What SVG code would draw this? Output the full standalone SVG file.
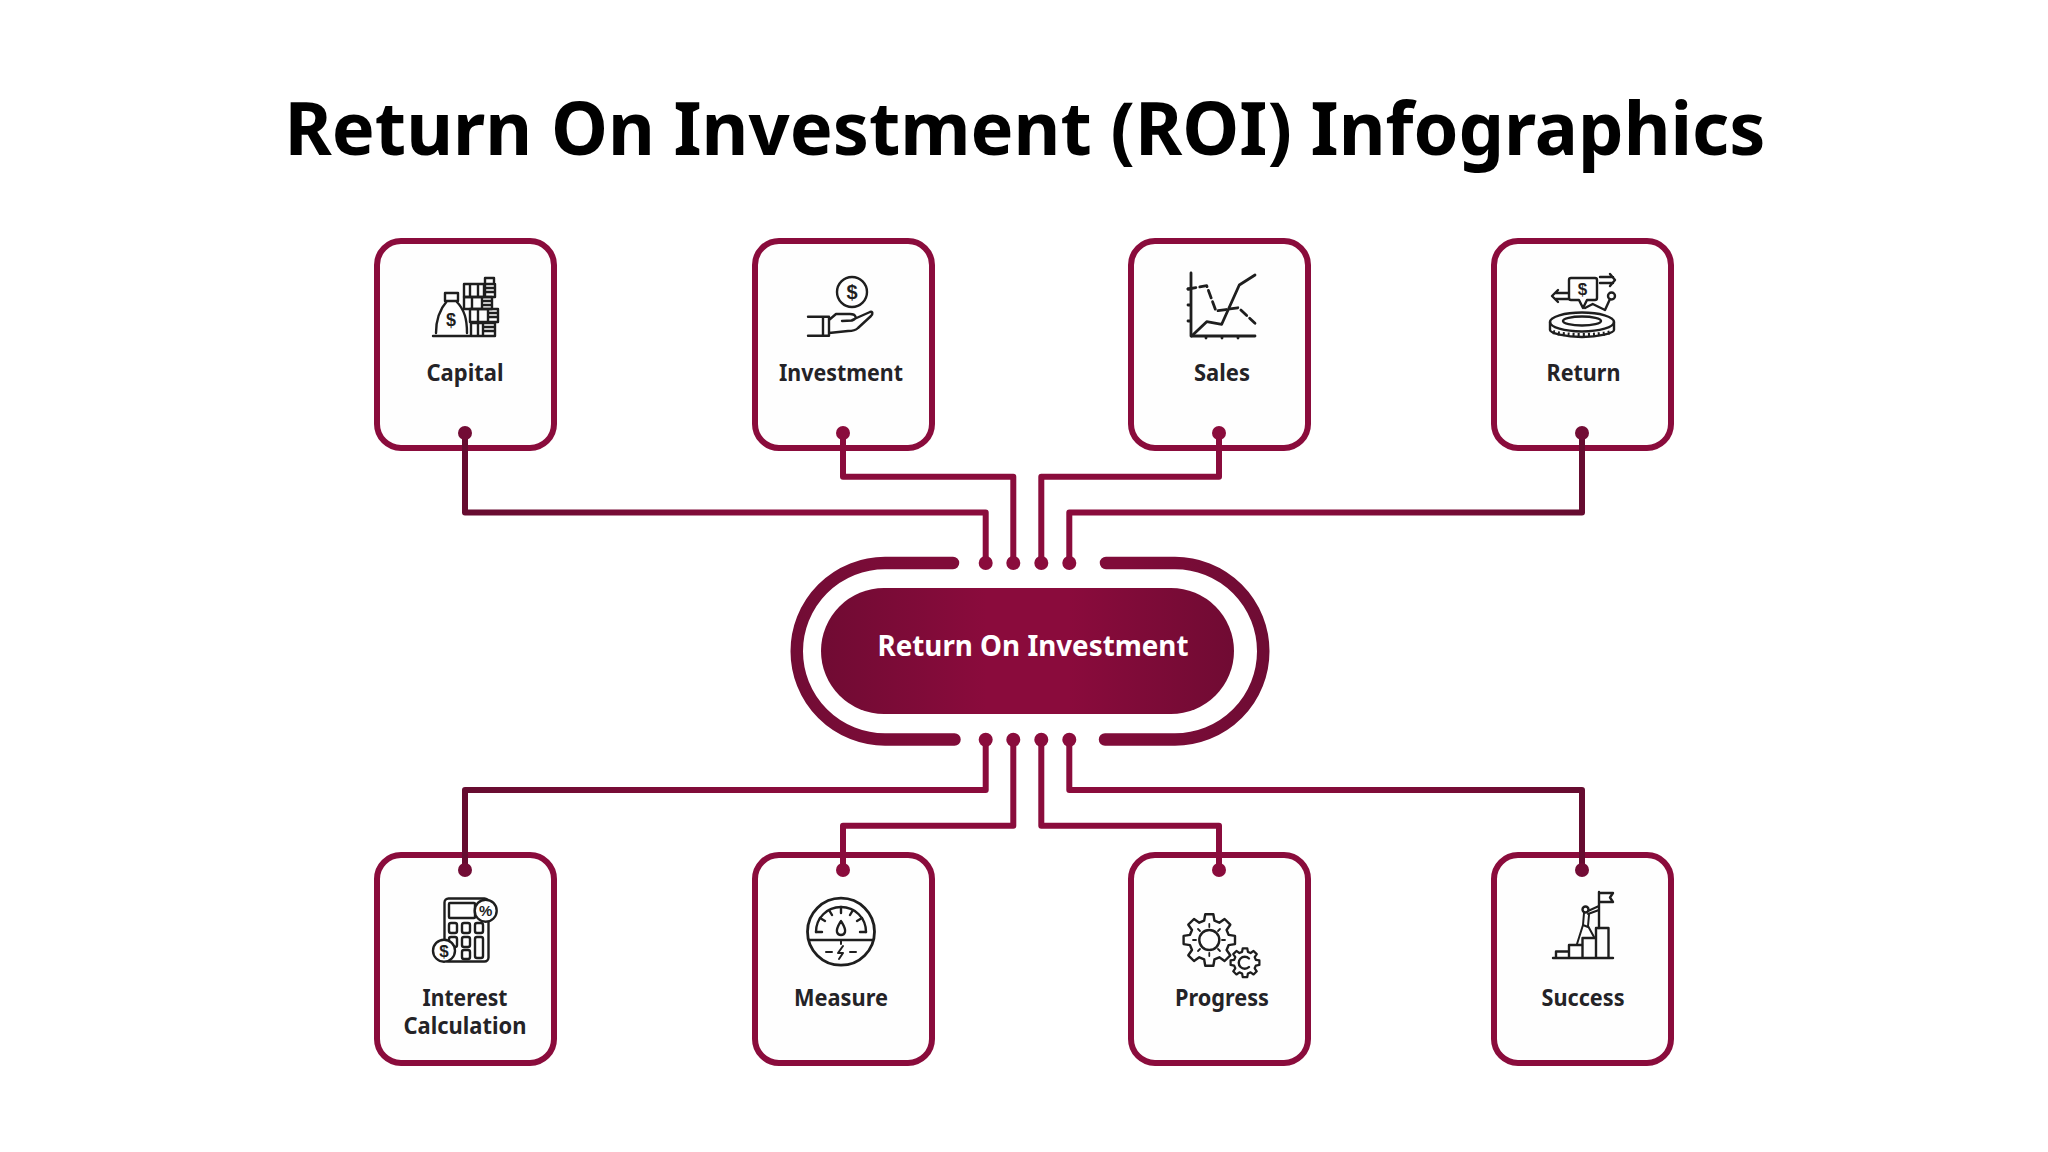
<svg xmlns="http://www.w3.org/2000/svg" xmlns:xlink="http://www.w3.org/1999/xlink" width="2048" height="1152" viewBox="0 0 2048 1152">
<style>
.card{fill:#fefefe;stroke:#8a0c3c;stroke-width:6}
.lbl{font-family:"Noto Sans","Open Sans","Liberation Sans",sans-serif;font-weight:700;font-size:23px;fill:#242327;text-anchor:middle}
.ic{fill:none;stroke:#1e1e1e;stroke-width:2.400;stroke-linejoin:round;stroke-linecap:round}
.ict{font-family:"Liberation Sans",sans-serif;font-weight:700;fill:#1e1e1e;text-anchor:middle}
.cn{fill:none;stroke-width:6;stroke-linejoin:round}
.flat{stroke:#8a0c3c}
.d{fill:#8a0c3c}
.dd{fill:#720c35}
</style>
<defs>
<linearGradient id="gPill" gradientUnits="userSpaceOnUse" x1="821" y1="0" x2="1234" y2="0">
<stop offset="0" stop-color="#700b33"/><stop offset=".4" stop-color="#8a0b3c"/><stop offset=".6" stop-color="#8a0b3c"/><stop offset="1" stop-color="#700b33"/>
</linearGradient>
<linearGradient id="gRing" gradientUnits="userSpaceOnUse" x1="791" y1="0" x2="1269" y2="0">
<stop offset="0" stop-color="#720c35"/><stop offset=".3" stop-color="#800c39"/><stop offset=".7" stop-color="#800c39"/><stop offset="1" stop-color="#6e0c34"/>
</linearGradient>
<linearGradient id="gL" gradientUnits="userSpaceOnUse" x1="465" y1="0" x2="780" y2="0">
<stop offset="0" stop-color="#660c30"/><stop offset="1" stop-color="#8a0c3c"/>
</linearGradient>
<linearGradient id="gR" gradientUnits="userSpaceOnUse" x1="1582" y1="0" x2="1290" y2="0">
<stop offset="0" stop-color="#660c30"/><stop offset="1" stop-color="#8a0c3c"/>
</linearGradient>
<path id="gear" d="M25.7,-4.06 25.7,4.06 19.3,5.18 17.3,10 21,15.3 15.3,21 10,17.3 5.18,19.3 4.06,25.7 -4.06,25.7 -5.18,19.3 -10,17.3 -15.3,21 -21,15.3 -17.3,10 -19.3,5.18 -25.7,4.06 -25.7,-4.06 -19.3,-5.18 -17.3,-10 -21,-15.3 -15.3,-21 -10,-17.3 -5.18,-19.3 -4.06,-25.7 4.06,-25.7 5.18,-19.3 10,-17.3 15.3,-21 21,-15.3 17.3,-10 19.3,-5.18 Z"/>
</defs>
<rect width="2048" height="1152" fill="#ffffff"/>
<text id="title" x="1025" y="155" font-family="'Noto Sans','Open Sans','Liberation Sans',sans-serif" font-weight="700" font-size="74" fill="#000" text-anchor="middle" textLength="1481" lengthAdjust="spacingAndGlyphs">Return On Investment (ROI) Infographics</text>

<g id="node-capital">
<rect class="card" x="377" y="241" width="177" height="207" rx="24"/>
<g class="ic">
<path d="M445,293h13v8h-13zM447,301C440,309 436,318 436,333M456,301C465,310 467,320 467,333M433,336H470"/>
<path d="M464,284h20v13h-20zM470,284v13M478,284v13M485,278h9v6h-9zM485,284h10v13h-10zM485,288h10M485,292h10"/>
<path d="M464,297h28v12h-28zM472,297v12M482,297v12M484,301h8M484,305h8"/>
<path d="M470,309h28v13h-28zM478,309v13M488,309v13M488,313h10M488,317h10"/>
<path d="M471,323h24v13h-24zM478,323v13M483,323v13M483,327h12M483,331h12"/>
</g>
<text class="ict" x="451" y="326" font-size="18">$</text>
<text class="lbl" x="465" y="381" textLength="77" lengthAdjust="spacingAndGlyphs">Capital</text>
</g>

<g id="node-investment">
<rect class="card" x="755" y="241" width="177" height="207" rx="24"/>
<g class="ic">
<circle cx="852" cy="292" r="15"/>
<path d="M808,316.700H823V335.700H808M823,316.700h6V335.700h-6M829,320L836,314H850C856,314 858,319 852,320.500L842,321M852,320L870,312C873,311 873,314 871,316L858,328C855,331 852,331 848,331L829,333"/>
</g>
<text class="ict" x="852" y="299" font-size="20">$</text>
<text class="lbl" x="841" y="381" textLength="124" lengthAdjust="spacingAndGlyphs">Investment</text>
</g>

<g id="node-sales">
<rect class="card" x="1131" y="241" width="177" height="207" rx="24"/>
<g class="ic" style="stroke-width:2.800">
<path d="M1191,273V336H1255M1188,289h3M1188,305h3M1188,321h3M1206,336v2M1222,336v2M1238,336v2" />
<path d="M1191.700,336L1206.700,321.700L1221.700,324.300L1239.300,285L1255,275"/>
<path stroke-dasharray="8 4" d="M1188,289L1206.700,285.700L1216,311L1238.300,307.700L1255,323.300"/>
</g>
<text class="lbl" x="1222" y="381" textLength="56" lengthAdjust="spacingAndGlyphs">Sales</text>
</g>

<g id="node-return">
<rect class="card" x="1494" y="241" width="177" height="207" rx="24"/>
<g class="ic">
<path d="M1569,280a2,2 0 0 1 2,-2h24a2,2 0 0 1 2,2v18a2,2 0 0 1 -2,2h-8l-4,8l-4,-8h-8a2,2 0 0 1 -2,-2z"/>
<path d="M1600,277h13M1600,283h13M1610,274l5,6l-5,6M1568,293h-12M1568,299h-12M1558,290l-6,6l6,6"/>
<path d="M1585,308L1592.700,304L1605,310L1610,299"/>
<circle cx="1611.500" cy="296" r="3.500"/>
<ellipse cx="1582" cy="322" rx="32" ry="9.500"/>
<ellipse cx="1582" cy="321" rx="19" ry="4.500"/>
<path d="M1550,322v8C1550,333 1565,337 1582,337C1599,337 1614,333 1614,330v-8"/>
<path stroke-dasharray="2 3" stroke-width="4" stroke-linecap="butt" d="M1553,332C1565,336 1599,336 1611,332"/>
</g>
<text class="ict" x="1582.500" y="295" font-size="17">$</text>
<text class="lbl" x="1583.500" y="381" textLength="74" lengthAdjust="spacingAndGlyphs">Return</text>
</g>

<g id="node-center">
<path d="M953,563H885A88,88 0 0 0 885,739.500H954.500" fill="none" stroke="url(#gRing)" stroke-width="12.500" stroke-linecap="round"/>
<path d="M1106,563H1175A88,88 0 0 1 1175,739.500H1105" fill="none" stroke="url(#gRing)" stroke-width="12.500" stroke-linecap="round"/>
<rect x="821" y="588" width="413" height="126" rx="63" fill="url(#gPill)"/>
<text x="1033" y="656" font-family="'Noto Sans','Open Sans','Liberation Sans',sans-serif" font-weight="700" font-size="29" fill="#fff" text-anchor="middle" textLength="311" lengthAdjust="spacingAndGlyphs">Return On Investment</text>
</g>

<g id="node-interest">
<rect class="card" x="377" y="855" width="177" height="208" rx="24"/>
<g class="ic">
<rect x="444.500" y="898.500" width="44" height="63" rx="4"/>
<rect x="449" y="903" width="26" height="15" rx="1"/>
<circle cx="485.700" cy="910.700" r="11" fill="#fff"/>
<rect x="449" y="923" width="8" height="10" rx="2"/><rect x="462" y="923" width="8" height="10" rx="2"/><rect x="475" y="923" width="8" height="10" rx="2"/>
<rect x="449" y="937" width="8" height="10" rx="2"/><rect x="462" y="937" width="8" height="10" rx="2"/><rect x="475" y="937" width="8" height="21" rx="2"/>
<rect x="462" y="950" width="8" height="9" rx="2"/>
<circle cx="444" cy="950.700" r="11" fill="#fff"/>
</g>
<text class="ict" x="485.700" y="916" font-size="15">%</text>
<text class="ict" x="444" y="957" font-size="17">$</text>
<text class="lbl" x="465" y="1006" textLength="85" lengthAdjust="spacingAndGlyphs">Interest</text>
<text class="lbl" x="465" y="1034" textLength="123" lengthAdjust="spacingAndGlyphs">Calculation</text>
</g>

<g id="node-measure">
<rect class="card" x="755" y="855" width="177" height="208" rx="24"/>
<g class="ic">
<circle cx="841" cy="931.700" r="33.500" stroke-width="2.800"/>
<path d="M809,940H873"/>
<path d="M816,932C816,918 827,907 841,907C855,907 866,918 866,932"/>
<path d="M816,932h6M866,932h-6M841,907v6M829,910l3,5M853,910l-3,5M820,918l5,3M862,918l-5,3"/>
<path d="M841,921C838,926 836,929 837,932C838,936 844,936 845,932C846,929 844,926 841,921Z"/>
<path d="M841,941v3M826,952h6M850,952h6M843,946L838,953H843L839,959" stroke-width="2"/>
</g>
<text class="lbl" x="841" y="1006" textLength="94" lengthAdjust="spacingAndGlyphs">Measure</text>
</g>

<g id="node-progress">
<rect class="card" x="1131" y="855" width="177" height="208" rx="24"/>
<g class="ic">
<use xlink:href="#gear" href="#gear" transform="translate(1209.300,940)"/>
<circle cx="1209.300" cy="940" r="10"/>
<path d="M1209.300,924v3M1209.300,953v3M1193,940h3M1222,940h3M1198,929l2,2M1218,949l2,2M1220,929l-2,2M1200,949l-2,2" stroke-width="1.800"/>
<use xlink:href="#gear" href="#gear" transform="translate(1245,962.700) scale(.56)" style="stroke-width:4;fill:#fff"/>
<path d="M1249,958.500A6,6 0 1 0 1249,967"/>
</g>
<text class="lbl" x="1222" y="1006" textLength="94" lengthAdjust="spacingAndGlyphs">Progress</text>
</g>

<g id="node-success">
<rect class="card" x="1494" y="855" width="177" height="208" rx="24"/>
<g class="ic">
<path d="M1553,958H1613M1556,958v-6.500h13V958M1569,958v-13h13.500V958M1582.500,958V938H1596V958M1596,958V928H1608.500V958"/>
<path d="M1599,928V892M1599,893H1613L1610,897.500L1613,902H1599"/>
<circle cx="1585.500" cy="909.500" r="3"/>
<path d="M1588,911L1599,906M1588,914L1599,910M1584,913L1583,925L1577,944M1589,915L1588,926L1594,937M1583,925L1588,927" stroke-width="2"/>
</g>
<text class="lbl" x="1583" y="1006" textLength="83" lengthAdjust="spacingAndGlyphs">Success</text>
</g>

<g id="connectors">
<path class="cn" stroke="url(#gL)" d="M465,433V512.500H985.700V563"/>
<path class="cn flat" d="M843,433V476.700H1013.300V563"/>
<path class="cn flat" d="M1219,433V476.700H1041.300V563"/>
<path class="cn" stroke="url(#gR)" d="M1582,433V512.500H1069.300V563"/>
<path class="cn" stroke="url(#gL)" d="M465,870V790H985.700V740"/>
<path class="cn flat" d="M843,870V825.700H1013.300V740"/>
<path class="cn flat" d="M1219,870V825.700H1041.300V740"/>
<path class="cn" stroke="url(#gR)" d="M1582,870V790H1069.300V740"/>
<circle class="dd" cx="465" cy="433" r="7"/><circle class="d" cx="843" cy="433" r="7"/><circle class="d" cx="1219" cy="433" r="7"/><circle class="dd" cx="1582" cy="433" r="7"/>
<circle class="dd" cx="465" cy="870" r="7"/><circle class="d" cx="843" cy="870" r="7"/><circle class="d" cx="1219" cy="870" r="7"/><circle class="dd" cx="1582" cy="870" r="7"/>
<circle class="d" cx="985.700" cy="563" r="7"/><circle class="d" cx="1013.300" cy="563" r="7"/><circle class="d" cx="1041.300" cy="563" r="7"/><circle class="d" cx="1069.300" cy="563" r="7"/>
<circle class="d" cx="985.700" cy="739.700" r="7"/><circle class="d" cx="1013.300" cy="739.700" r="7"/><circle class="d" cx="1041.300" cy="739.700" r="7"/><circle class="d" cx="1069.300" cy="739.700" r="7"/>
</g>
</svg>
